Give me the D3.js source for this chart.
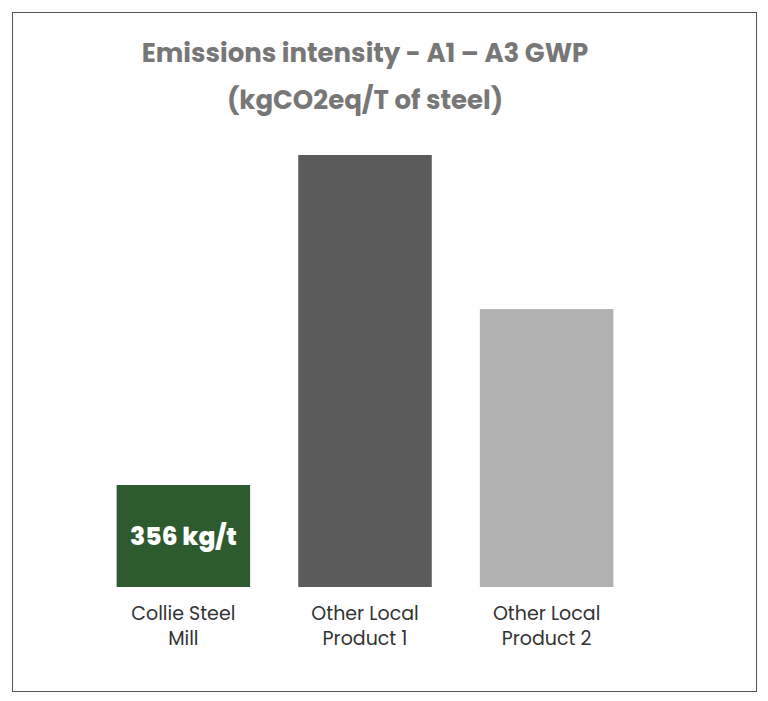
<!DOCTYPE html>
<html><head><meta charset="utf-8">
<script src="https://cdn.jsdelivr.net/npm/d3@7"></script>
<style>body{margin:0;background:#fff}</style></head>
<body><svg id="c" width="768" height="701"></svg>
<script>
const categories = [["Collie Steel","Mill"],["Other Local","Product 1"],["Other Local","Product 2"]];
const values = [356, 1508, 970];
const colors = ["#2d5a2e","#5b5b5b","#b1b1b1"];
const barLabels = ["356 kg/t","",""];
const titleLines = ["Emissions intensity - A1 – A3 GWP","(kgCO2eq/T of steel)"];

const svg = d3.select("#c");
svg.append("rect").attr("x",12.5).attr("y",12.5).attr("width",744).attr("height",679)
  .attr("fill","#fff").attr("stroke","#555").attr("stroke-width",1);

const x = d3.scaleBand().domain(d3.range(values.length)).range([93,637]).paddingInner(0.265).paddingOuter(0.13);
const y = d3.scaleLinear().domain([0,1508]).range([587,155]);

svg.selectAll("text.t").data(titleLines).join("text")
  .attr("x",365).attr("y",(d,i)=>62+i*47).attr("text-anchor","middle")
  .attr("font-family","Poppins, Inter, 'Open Sans', sans-serif").attr("font-weight",700)
  .attr("font-size",26).attr("fill","#777").text(d=>d);

svg.selectAll("rect.b").data(values).join("rect")
  .attr("x",(d,i)=>x(i)).attr("width",x.bandwidth())
  .attr("y",d=>y(d)).attr("height",d=>y(0)-y(d)).attr("fill",(d,i)=>colors[i]);

svg.selectAll("text.bl").data(values).join("text")
  .attr("x",(d,i)=>x(i)+x.bandwidth()/2).attr("y",d=>(y(d)+y(0))/2+9)
  .attr("text-anchor","middle").attr("font-family","Poppins, Inter, sans-serif")
  .attr("font-weight",800).attr("font-size",25).attr("fill","#fff")
  .text((d,i)=>barLabels[i]);

const g = svg.selectAll("text.c").data(categories).join("text")
  .attr("text-anchor","middle").attr("font-family","Poppins, Inter, sans-serif")
  .attr("font-size",19).attr("fill","#333");
g.each(function(d,i){
  d3.select(this).selectAll("tspan").data(d).join("tspan")
    .attr("x",x(i)+x.bandwidth()/2).attr("y",(t,j)=>620+j*25).text(t=>t);
});
</script></body></html>
